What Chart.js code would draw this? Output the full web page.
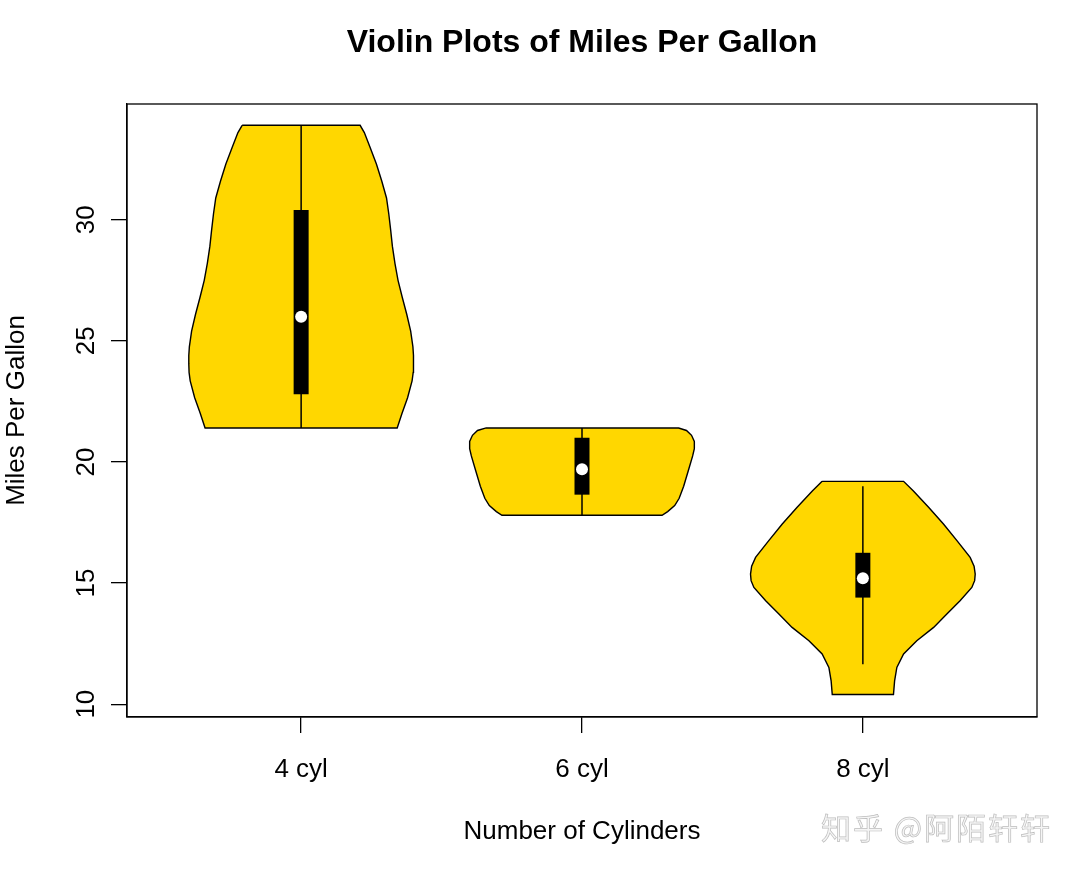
<!DOCTYPE html>
<html>
<head>
<meta charset="utf-8">
<script src="https://cdn.jsdelivr.net/npm/chart.js@4/dist/chart.umd.min.js"></script>
<style>
  html, body { margin: 0; padding: 0; background: #ffffff; }
  #wrap { position: relative; width: 1080px; height: 870px; }
  #c { display: block; }
  #wm { position: absolute; left: 821px; top: 804px; font: 30px "Noto Sans CJK SC", sans-serif;
        color: #f5f5f5; -webkit-text-stroke: 0.7px #bdbdbd; letter-spacing: 2px; }
</style>
</head>
<body>
<div id="wrap">
  <canvas id="c" width="1080" height="870"></canvas>
  <div id="wm">知乎 @阿陌轩轩</div>
</div>
<script>
// ---------- data ----------
const categories = ['4 cyl', '6 cyl', '8 cyl'];
const yTicks = [10, 15, 20, 25, 30];

// violin outlines: mpg levels and half-widths (in category units)
const v4Levels = [33.9, 33.6, 33.0, 32.3, 31.6, 30.9, 30.25, 29.55, 28.9, 28.2, 27.5, 26.8, 26.1, 25.4, 24.75, 24.4, 24.05, 23.7, 23.35, 22.65, 22.0, 21.4];
const v4Half   = [0.21, 0.225, 0.245, 0.268, 0.287, 0.304, 0.312, 0.319, 0.325, 0.334, 0.345, 0.36, 0.376, 0.39, 0.398, 0.4, 0.4, 0.399, 0.395, 0.379, 0.359, 0.342];

const v6Levels = [21.4, 21.3, 21.1, 20.85, 20.55, 20.25, 19.7, 19.0, 18.5, 18.2, 17.95, 17.8];
const v6Half   = [0.344, 0.372, 0.39, 0.4, 0.4, 0.394, 0.38, 0.362, 0.346, 0.33, 0.305, 0.285];

const v8Levels = [19.2, 18.8, 18.13, 17.44, 16.75, 16.06, 15.7, 15.37, 15.1, 14.82, 14.27, 13.72, 13.17, 12.62, 12.07, 11.52, 10.96, 10.4];
const v8Half   = [0.145, 0.18, 0.234, 0.287, 0.335, 0.382, 0.396, 0.4, 0.398, 0.388, 0.346, 0.299, 0.252, 0.192, 0.145, 0.121, 0.113, 0.109];

// box statistics
const q1Vals      = [22.8, 18.65, 14.4];
const q3Vals      = [30.4, 21.0, 16.25];
const medianVals  = [26.0, 19.7, 15.2];
const whiskerLo   = [21.4, 17.8, 11.65];
const whiskerHi   = [33.9, 21.4, 19.0];

// ---------- build datasets ----------
const FONT = "'Liberation Sans', Arial, Helvetica, sans-serif";
const GOLD = '#FFD700';

function violinPolygon(center, levels, half) {
  const pts = [];
  for (let i = 0; i < levels.length; i++) pts.push({x: center - half[i], y: levels[i]});
  for (let i = levels.length - 1; i >= 0; i--) pts.push({x: center + half[i], y: levels[i]});
  pts.push({x: center - half[0], y: levels[0]});
  return pts;
}

const violins = [
  [v4Levels, v4Half],
  [v6Levels, v6Half],
  [v8Levels, v8Half]
];

const datasets = [];
violins.forEach(([lv, hw], i) => {
  datasets.push({
    type: 'scatter', showLine: true, data: violinPolygon(i + 1, lv, hw),
    borderColor: '#000000', borderWidth: 1.4, backgroundColor: GOLD,
    fill: 'shape', pointRadius: 0, tension: 0, order: 4
  });
});
categories.forEach((c, i) => {
  datasets.push({
    type: 'scatter', showLine: true,
    data: [{x: i + 1, y: whiskerLo[i]}, {x: i + 1, y: whiskerHi[i]}],
    borderColor: '#000000', borderWidth: 1.5, pointRadius: 0, fill: false, order: 3
  });
  datasets.push({
    type: 'scatter', showLine: true,
    data: [{x: i + 1, y: q1Vals[i]}, {x: i + 1, y: q3Vals[i]}],
    borderColor: '#000000', borderWidth: 15, borderCapStyle: 'butt', pointRadius: 0, fill: false, order: 2
  });
});
datasets.push({
  type: 'scatter',
  data: medianVals.map((v, i) => ({x: i + 1, y: v})),
  pointRadius: 6, pointBackgroundColor: '#ffffff', pointBorderColor: '#ffffff', pointBorderWidth: 0,
  showLine: false, order: 1
});

const framePlugin = {
  id: 'frame',
  afterDraw(chart) {
    const {ctx, chartArea: a} = chart;
    ctx.save();
    ctx.strokeStyle = '#000000';
    ctx.lineWidth = 1.3;
    ctx.strokeRect(a.left, a.top, a.right - a.left, a.bottom - a.top);
    ctx.restore();
  }
};

new Chart(document.getElementById('c'), {
  type: 'scatter',
  data: { datasets },
  plugins: [framePlugin],
  options: {
    responsive: false,
    animation: false,
    layout: { padding: { left: 0, right: 43, top: 0, bottom: 0 } },
    plugins: { legend: { display: false }, tooltip: { enabled: false }, title: { display: false } },
    scales: {
      x: {
        type: 'linear', position: 'bottom', min: 0.38, max: 3.62,
        afterBuildTicks: (s) => { s.ticks = categories.map((c, i) => ({ value: i + 1 })); },
        afterFit: (s) => { s.height = 153; },
        ticks: {
          autoSkip: false, maxRotation: 0, minRotation: 0, padding: 21, color: '#000000',
          font: { family: FONT, size: 26 },
          callback: (v) => categories[Math.round(v) - 1] || ''
        },
        grid: { display: true, drawOnChartArea: false, drawTicks: true, tickLength: 16, color: '#000000', lineWidth: 1.3 },
        border: { display: true, color: '#000000', width: 1.3 },
        title: { display: true, text: 'Number of Cylinders', color: '#000000',
                 font: { family: FONT, size: 26 }, padding: { top: 0, bottom: 23 } }
      },
      xTop: {
        type: 'linear', position: 'top', min: 0.38, max: 3.62,
        afterFit: (s) => { s.height = 104; },
        ticks: { display: false },
        grid: { display: false },
        border: { display: false },
        title: { display: true, text: 'Violin Plots of Miles Per Gallon', color: '#000000',
                 font: { family: FONT, size: 32, weight: 'bold' }, padding: { top: 24, bottom: 0 } }
      },
      y: {
        type: 'linear', position: 'left', min: 9.47, max: 34.78,
        afterBuildTicks: (s) => { s.ticks = yTicks.map(v => ({ value: v })); },
        afterFit: (s) => { s.width = 127; },
        ticks: {
          autoSkip: false, minRotation: 90, maxRotation: 90, crossAlign: 'center', padding: 10,
          color: '#000000', font: { family: FONT, size: 26 }
        },
        grid: { display: true, drawOnChartArea: false, drawTicks: true, tickLength: 16, color: '#000000', lineWidth: 1.3 },
        border: { display: true, color: '#000000', width: 1.3 },
        title: { display: true, text: 'Miles Per Gallon', color: '#000000',
                 font: { family: FONT, size: 26 }, padding: { top: 1, bottom: 0 } }
      }
    }
  }
});
</script>
</body>
</html>
